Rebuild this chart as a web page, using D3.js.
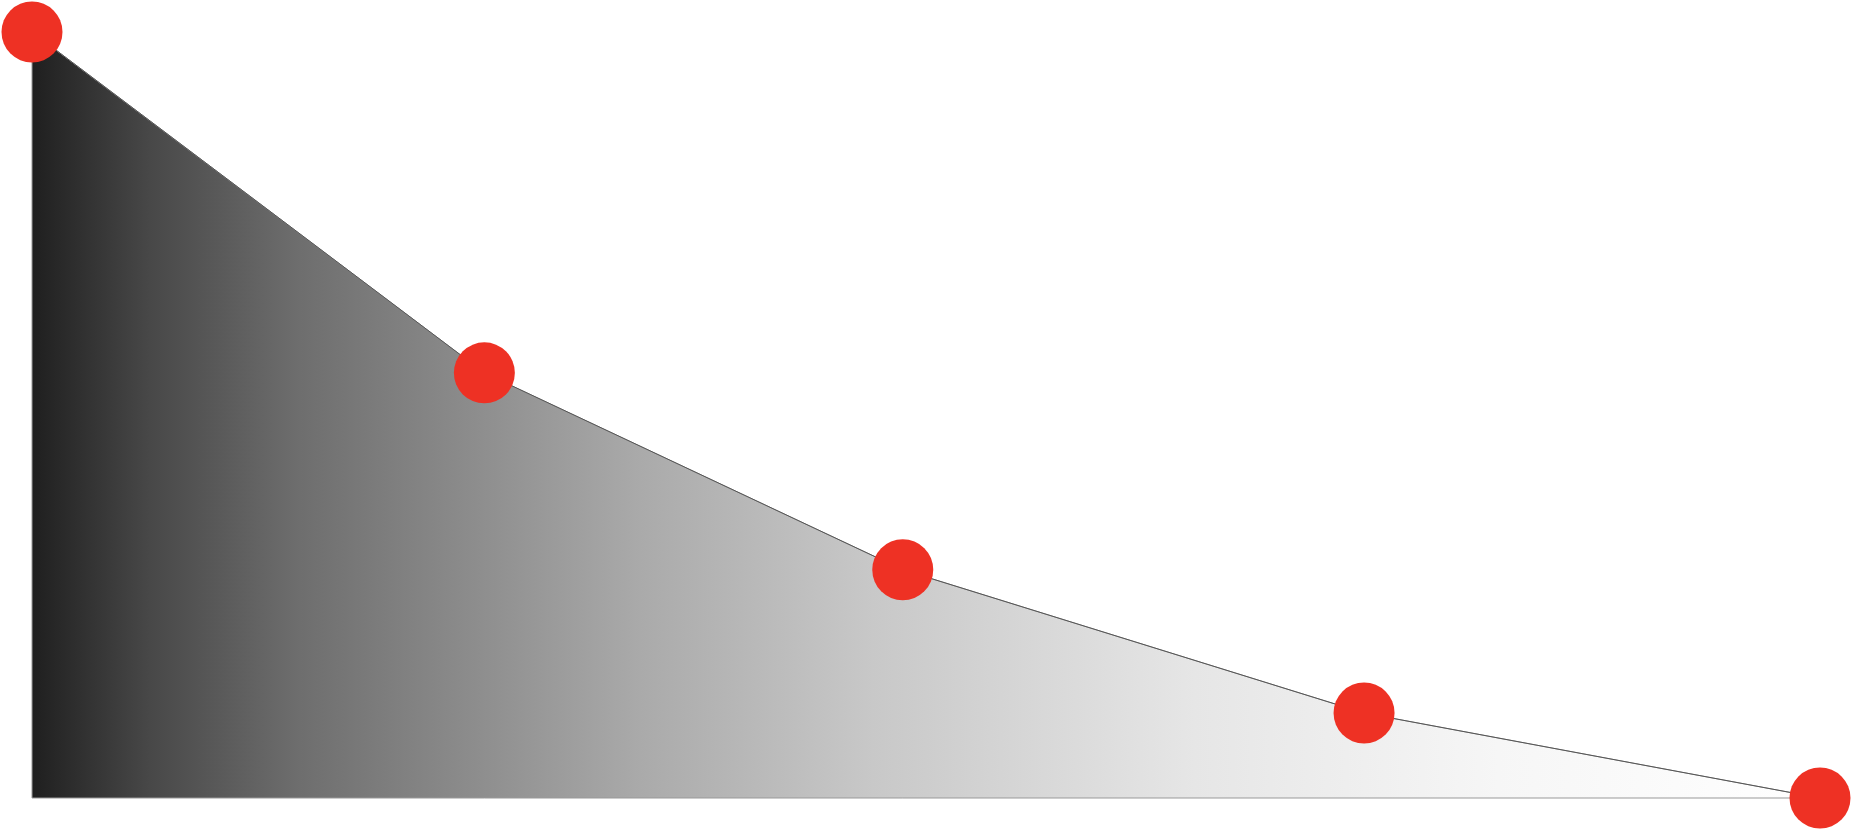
<!DOCTYPE html>
<html>
<head>
<meta charset="utf-8">
<script src="https://cdn.jsdelivr.net/npm/d3@7"></script>
<style>
  html, body { margin: 0; padding: 0; background: #fff; overflow: hidden; }
  svg { display: block; }
</style>
</head>
<body>
<div id="chart"></div>
<script>
// --- DATA ---
const xValues = [0, 25.3, 48.7, 74.5, 100];
const yValues = [100, 55.5, 29.8, 11.1, 0];

// gradient profile: offset along x -> grey level
const gradOffsets = [0, 0.066, 0.15, 0.34, 0.47, 0.65, 0.82, 1];
const gradColors = ["#1f1f1f", "#484848", "#6e6e6e", "#aaaaaa", "#c8c8c8", "#e6e6e6", "#f6f6f6", "#ffffff"];

const points = xValues.map((x, i) => ({ x: x, y: yValues[i] }));

// --- LAYOUT ---
const width = 1851;
const height = 829;
const margin = { top: 32, right: 31, bottom: 31, left: 32 };

const x = d3.scaleLinear().domain([0, 100]).range([margin.left, width - margin.right]);
const y = d3.scaleLinear().domain([0, 100]).range([height - margin.bottom, margin.top]);

const svg = d3.select("#chart").append("svg")
    .attr("width", width)
    .attr("height", height);

const grad = svg.append("defs").append("linearGradient")
    .attr("id", "areaFill")
    .attr("gradientUnits", "userSpaceOnUse")
    .attr("x1", x(0)).attr("x2", x(100))
    .attr("y1", 0).attr("y2", 0);

grad.selectAll("stop")
  .data(gradOffsets)
  .join("stop")
    .attr("offset", d => d)
    .attr("stop-color", (d, i) => gradColors[i]);

const area = d3.area()
    .x(d => x(d.x))
    .y0(y(0))
    .y1(d => y(d.y));

const line = d3.line()
    .x(d => x(d.x))
    .y(d => y(d.y));

// filled area with faint outline (left edge + baseline)
svg.append("path")
    .datum(points)
    .attr("d", area)
    .attr("fill", "url(#areaFill)")
    .attr("stroke", "#999")
    .attr("stroke-width", 1);

// top edge
svg.append("path")
    .datum(points)
    .attr("d", line)
    .attr("fill", "none")
    .attr("stroke", "#555")
    .attr("stroke-width", 1);

// markers
svg.append("g")
  .selectAll("circle")
  .data(points)
  .join("circle")
    .attr("cx", d => x(d.x))
    .attr("cy", d => y(d.y))
    .attr("r", 30.5)
    .attr("fill", "#ee3124");
</script>
</body>
</html>
